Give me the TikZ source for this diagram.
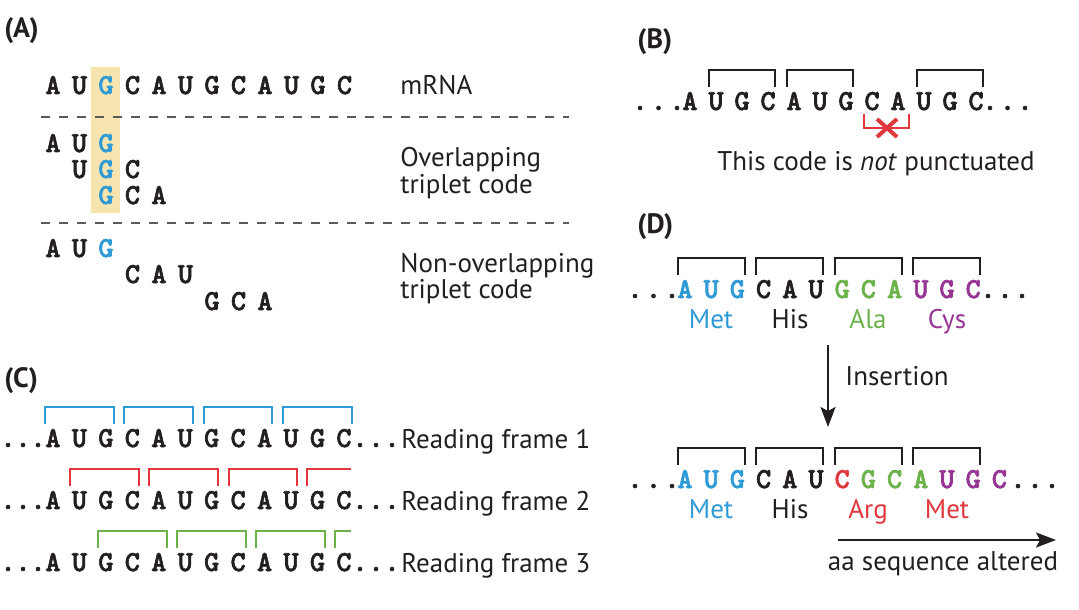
\documentclass[tikz,border=0pt]{standalone}
\usepackage{fontspec}
\setmainfont{PT Sans}
\newfontfamily\seqfont[FakeBold=2]{lmmonolt10-bold.otf}
\usetikzlibrary{arrows.meta}
\definecolor{cblue}{HTML}{2E9AD6}
\definecolor{cred}{HTML}{E0383D}
\definecolor{cgreen}{HTML}{6BB24B}
\definecolor{cpurple}{HTML}{963593}
\definecolor{hl}{HTML}{F7E4AE}
\definecolor{ink}{HTML}{231F20}
\definecolor{dashgray}{HTML}{5A5A5A}
\newcommand\seqrow[5]{\foreach \letr/\colr [count=\i from 0] in {#5}{\node[seq,text=\colr] (#1\i) at ({#2+#3*\i},#4) {\letr};}}
\newcommand\threedots[4]{\foreach \k in {0,1,2}{\node[seq] (#1\k) at ({#2+#3*\k},#4) {.};}}
\newcommand\codonbr[4]{\draw[brk,draw=#4] (#1,#3-23) -- (#1,#3-40) -- (#2,#3-40) -- (#2,#3-23);}
\newcommand\halfbr[4]{\draw[brk,draw=#4] (#1,#3-23) -- (#1,#3-40) -- (#2,#3-40);}
\begin{document}
\begin{tikzpicture}[x=0.5pt,y=-0.5pt,
 seq/.style={font=\seqfont\fontsize{14.5}{14.5}\selectfont, inner sep=0pt, anchor=base, text=ink},
 lbl/.style={font=\fontsize{13.5}{15}\selectfont, inner sep=0pt, text=ink},
 panel/.style={font=\bfseries\fontsize{14}{15}\selectfont, inner sep=0pt, text=ink, anchor=west},
 brk/.style={line width=1pt},
 sep/.style={draw=dashgray, line width=0.7pt, dash pattern=on 4.5pt off 4.5pt},
 arr/.style={draw=ink, line width=1pt, -{Stealth[length=10pt,width=7.5pt,inset=2pt]}},
]
\useasboundingbox (0,0) rectangle (1079,609);
\fill[white] (0,0) rectangle (1079,609);
% ---------- Panel A
\node[panel] (labA) at (4,31) {(A)};
\fill[hl] (91,67) rectangle (120,213);
\draw[sep] (41,117) -- (569,117);
\draw[sep] (41,223) -- (569,223);
\seqrow{ma}{53}{26.5}{94}{A/ink,U/ink,G/cblue,C/ink,A/ink,U/ink,G/ink,C/ink,A/ink,U/ink,G/ink,C/ink}
\node[lbl,anchor=base west] (mrna) at (400,95) {mRNA};
\seqrow{oa}{53}{26.5}{152}{A/ink,U/ink,G/cblue}
\seqrow{ob}{79.5}{26.5}{178}{U/ink,G/cblue,C/ink}
\seqrow{oc}{106}{26.5}{204}{G/cblue,C/ink,A/ink}
\node[lbl,anchor=base west] (ov1) at (400,167) {Overlapping};
\node[lbl,anchor=base west] (ov2) at (400,193) {triplet code};
\seqrow{na}{53}{26.5}{257}{A/ink,U/ink,G/cblue}
\seqrow{nb}{132.5}{26.5}{283}{C/ink,A/ink,U/ink}
\seqrow{nc}{212}{26.5}{310}{G/ink,C/ink,A/ink}
\node[lbl,anchor=base west] (no1) at (400,272) {Non-overlapping};
\node[lbl,anchor=base west] (no2) at (400,298) {triplet code};
% ---------- Panel B
\node[panel] (labB) at (637,42) {(B)};
\threedots{bd}{640}{18.5}{110}
\seqrow{b}{690}{26}{110}{A/ink,U/ink,G/ink,C/ink,A/ink,U/ink,G/ink,C/ink,A/ink,U/ink,G/ink,C/ink}
\threedots{be}{990}{17.5}{110}
\codonbr{709}{775}{110}{ink}
\codonbr{787}{853}{110}{ink}
\codonbr{917}{983}{110}{ink}
\draw[cred, line width=1pt] (864,114) -- (864,128) -- (909,128) -- (909,114);
\draw[cred, line width=2pt] (877,119) -- (897,137) (877,137) -- (897,119);
\node[lbl,anchor=base] (bnote) at (876,170) {This code is \textit{not} punctuated};
% ---------- Panel C
\node[panel] (labC) at (4,381) {(C)};
\threedots{cad}{8}{15}{447}
\seqrow{ca}{53}{26.45}{447}{A/ink,U/ink,G/ink,C/ink,A/ink,U/ink,G/ink,C/ink,A/ink,U/ink,G/ink,C/ink}
\threedots{cae}{360}{16}{447}
\node[lbl,anchor=base west] (rf1) at (401,448) {Reading frame 1};
\codonbr{45}{114}{447}{cblue}
\codonbr{124}{193}{447}{cblue}
\codonbr{204}{272}{447}{cblue}
\codonbr{283}{352}{447}{cblue}
\threedots{cbd}{8}{15}{509}
\seqrow{cb}{53}{26.45}{509}{A/ink,U/ink,G/ink,C/ink,A/ink,U/ink,G/ink,C/ink,A/ink,U/ink,G/ink,C/ink}
\threedots{cbe}{360}{16}{509}
\node[lbl,anchor=base west] (rf2) at (401,510) {Reading frame 2};
\codonbr{70}{139}{509}{cred}
\codonbr{149}{218}{509}{cred}
\codonbr{229}{297}{509}{cred}
\halfbr{307}{351}{509}{cred}
\threedots{ccd}{8}{15}{571}
\seqrow{cc}{53}{26.45}{571}{A/ink,U/ink,G/ink,C/ink,A/ink,U/ink,G/ink,C/ink,A/ink,U/ink,G/ink,C/ink}
\threedots{cce}{360}{16}{571}
\node[lbl,anchor=base west] (rf3) at (401,572) {Reading frame 3};
\codonbr{98}{167}{571}{cgreen}
\codonbr{177}{246}{571}{cgreen}
\codonbr{256}{325}{571}{cgreen}
\halfbr{335}{351}{571}{cgreen}
% ---------- Panel D
\node[panel] (labD) at (637,227) {(D)};
\threedots{dad}{635}{18.5}{298}
\seqrow{da}{685}{26.2}{298}{A/cblue,U/cblue,G/cblue,C/ink,A/ink,U/ink,G/cgreen,C/cgreen,A/cgreen,U/cpurple,G/cpurple,C/cpurple}
\threedots{dae}{988}{17}{298}
\codonbr{678}{745}{298}{ink}
\codonbr{756}{823}{298}{ink}
\codonbr{835}{902}{298}{ink}
\codonbr{913}{980}{298}{ink}
\node[lbl,anchor=base,text=cblue] (aa1) at (711,328) {Met};
\node[lbl,anchor=base,text=ink] (aa2) at (790,328) {His};
\node[lbl,anchor=base,text=cgreen] (aa3) at (868,328) {Ala};
\node[lbl,anchor=base,text=cpurple] (aa4) at (947,328) {Cys};
\coordinate (ins0) at (828,345);
\coordinate (ins1) at (828,427);
\draw[arr] (ins0) -- (ins1);
\node[lbl,anchor=base west] (insl) at (845,385) {Insertion};
\threedots{dbd}{635}{18.5}{488}
\seqrow{db}{685}{26.2}{488}{A/cblue,U/cblue,G/cblue,C/ink,A/ink,U/ink,C/cred,G/cgreen,C/cgreen,A/cgreen,U/cpurple,G/cpurple,C/cpurple}
\threedots{dbe}{1018}{17}{488}
\codonbr{678}{745}{488}{ink}
\codonbr{756}{823}{488}{ink}
\codonbr{835}{902}{488}{ink}
\codonbr{913}{980}{488}{ink}
\node[lbl,anchor=base,text=cblue] (ab1) at (711,518) {Met};
\node[lbl,anchor=base,text=ink] (ab2) at (790,518) {His};
\node[lbl,anchor=base,text=cred] (ab3) at (868,518) {Arg};
\node[lbl,anchor=base,text=cred] (ab4) at (947,518) {Met};
\coordinate (alt0) at (838,540);
\coordinate (alt1) at (1056,540);
\draw[arr] (alt0) -- (alt1);
\node[lbl,anchor=base] (altl) at (943,570) {aa sequence altered};
\end{tikzpicture}
\end{document}
